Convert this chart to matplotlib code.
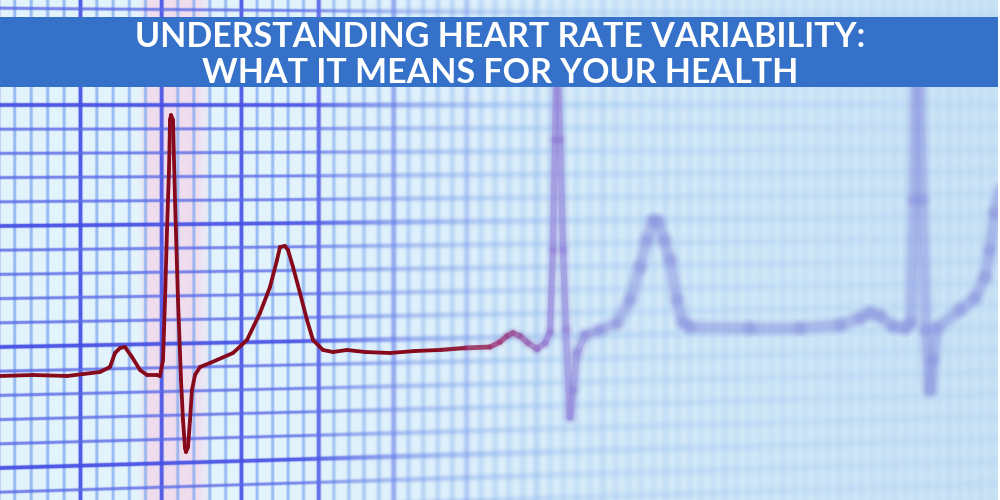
import numpy as np
import matplotlib
matplotlib.use("Agg")
import matplotlib.pyplot as plt
from matplotlib.collections import LineCollection
from matplotlib.colors import to_rgb
from matplotlib.patches import Rectangle

W, H = 1000, 500

title_lines = ["UNDERSTANDING HEART RATE VARIABILITY:",
               "WHAT IT MEANS FOR YOUR HEALTH"]

# ECG trace (pixel coordinates, y downwards)
trace_x = [0, 33, 67, 100, 110, 115, 120, 125, 132, 140, 147, 157,
           160, 163, 165, 167, 169, 170, 171, 173, 175, 178, 181, 183, 185, 186,
           188, 190, 192, 195, 200, 210, 233, 247, 260, 270, 277, 280, 285, 288,
           293, 300, 307, 313, 323, 333, 347, 365, 390, 415, 440, 465, 490, 500,
           507, 513, 520, 528, 537, 545, 550, 553, 555, 557, 560, 563, 566, 570,
           573, 577, 585, 600, 617, 630, 640, 647, 653, 658, 664, 670, 677, 683,
           690, 750, 800, 840, 860, 870, 880, 893, 905, 911, 914, 916, 919, 922,
           926, 930, 933, 937, 960, 975, 985, 990, 995, 1000]
trace_y = [376, 375, 376, 372, 367, 353, 348, 347, 357, 370, 375, 375,
           376, 360, 300, 230, 170, 120, 115, 120, 200, 300, 380, 420, 448, 452,
           447, 420, 390, 375, 367, 363, 353, 340, 313, 287, 260, 247, 246, 250,
           267, 293, 320, 340, 350, 352, 350, 352, 353, 351, 350, 348, 347, 342,
           336, 333, 336, 343, 349, 343, 332, 250, 140, 40, 140, 250, 330, 417,
           390, 353, 335, 330, 323, 300, 267, 240, 221, 222, 240, 260, 300, 322,
           327, 328, 328, 325, 318, 313, 316, 326, 328, 322, 200, 40, 40, 200,
           330, 390, 360, 328, 310, 298, 277, 250, 213, 190]

fig = plt.figure(figsize=(10, 5), dpi=100)
ax = fig.add_axes([0, 0, 1, 1])
ax.set_xlim(0, W)
ax.set_ylim(H, 0)
ax.axis('off')

# ---------- background: monitor grid (decorative raster) ----------
xs = np.arange(W) + 0.5
ys = np.arange(H) + 0.5
X, Y = np.meshgrid(xs, ys)


def ss(a, b, x):
    t = np.clip((x - a) / (b - a), 0, 1)
    return t * t * (3 - 2 * t)


def ramp(c0, c1, x0, x1):
    c0 = np.array(to_rgb(c0)); c1 = np.array(to_rgb(c1))
    tt = np.clip((xs - x0) / (x1 - x0), 0, 1)[:, None]
    return (c0 * (1 - tt) + c1 * tt)[None, :, :]


bg = np.broadcast_to(ramp('#e4f4fc', '#cde5f6', 250, 1000), (H, W, 3)).copy()
pink = np.array(to_rgb('#f4d6ea'))
wp = (ss(136, 150, xs) * (1 - ss(194, 214, xs)) * 0.75)[None, :, None]
bg = bg * (1 - wp) + pink * wp

p = np.interp(xs, [0, 200, 320, 450, 550, 700, 1000], [16.6, 16.0, 15.2, 14.5, 13.5, 11.8, 10.5])
u = np.cumsum(1 / p)
u = u - u[80]
ru = np.round(u)
dv = (np.abs(u - ru) * p)[None, :]
majv = (ru % 5 == 0)[None, :]

s = np.interp(xs, [0, 1000], [1.0, 0.92])[None, :]
v = (Y - 105) / (24.2 * s)
rv = np.round(v)
dh = np.abs(v - rv) * 24.2 * s
majh = (rv % 5 == 0)

sig = np.interp(xs, [0, 300, 340, 400, 470, 600, 1000], [0.8, 0.85, 1.1, 1.7, 2.2, 2.9, 3.4])[None, :]
hwmin = np.interp(xs, [0, 320, 450], [0.6, 0.5, 0.2])[None, :]
hwmaj = np.interp(xs, [0, 320, 450], [1.0, 0.9, 0.3])[None, :]
ax_ = [0, 300, 340, 400, 480, 600, 800, 1000]
avmin = np.interp(xs, ax_, [0.70, 0.66, 0.55, 0.42, 0.32, 0.23, 0.15, 0.12])[None, :]
avmaj = np.interp(xs, ax_, [0.95, 0.90, 0.75, 0.52, 0.36, 0.25, 0.16, 0.12])[None, :]
ahmin = np.interp(xs, ax_, [0.80, 0.75, 0.60, 0.44, 0.32, 0.23, 0.15, 0.12])[None, :]
ahmaj = np.interp(xs, ax_, [0.95, 0.90, 0.75, 0.52, 0.36, 0.25, 0.16, 0.12])[None, :]


def prof(d, hw, sg):
    return np.exp(-0.5 * (np.maximum(d - hw, 0) / sg) ** 2)


pvmin, pvmaj = prof(dv, hwmin, sig), prof(dv, hwmaj, sig)
phmin, phmaj = prof(dh, hwmin, sig), prof(dh, hwmaj, sig)
Iv = np.where(majv, avmaj * pvmaj, avmin * pvmin)
Ih = np.where(majh, ahmaj * phmaj, ahmin * phmin)
cvmin = ramp('#78a4ee', '#8fbcef', 300, 560)
cvmaj = ramp('#4652e6', '#86b4ee', 300, 560)
chmin = ramp('#5a6ae6', '#8cb8ee', 300, 560)
chmaj = ramp('#4650e4', '#86b4ee', 300, 560)
cv = np.where(majv[..., None], cvmaj, cvmin)
ch = np.where(majh[..., None], chmaj, chmin)
img = bg * (1 - Iv[..., None]) + cv * Iv[..., None]
img = img * (1 - Ih[..., None]) + ch * Ih[..., None]
ax.imshow(np.clip(img, 0, 1), extent=(0, W, H, 0), interpolation='bilinear', zorder=0)

# ---------- ECG trace ----------
px = np.array(trace_x, float)
py = np.array(trace_y, float)
pts = np.column_stack([px, py])
segs = np.stack([pts[:-1], pts[1:]], axis=1)
mx = (px[:-1] + px[1:]) / 2
b = np.clip((mx - 440) / 180, 0, 1)
stops = [0, 0.3, 0.6, 1.0]
cols = np.array([to_rgb(c) for c in ['#860a1c', '#a03070', '#927ad8', '#8d96e2']])
rgb = np.column_stack([np.interp(b, stops, cols[:, k]) for k in range(3)])
wpx = np.interp(b, [0, 1], [3.8, 10.0])
pt = wpx * 72 / 100
a_core = np.interp(b, [0, 1], [1.0, 0.2])
for fw, fa in [(2.0, 0.07), (1.6, 0.10), (1.25, 0.14), (1.0, 0.17)]:
    rgba = np.column_stack([rgb, fa * b])
    ax.add_collection(LineCollection(segs, colors=rgba, linewidths=pt * fw,
                                     capstyle='round', joinstyle='round', zorder=2))
rgba = np.column_stack([rgb, a_core])
ax.add_collection(LineCollection(segs, colors=rgba, linewidths=pt * np.interp(b, [0, 1], [1.0, 0.65]),
                                 capstyle='round', joinstyle='round', zorder=3))

# ---------- title banner ----------
ax.add_patch(Rectangle((0, 17), 998, 70, facecolor='#3571c9', edgecolor='none', zorder=5))
ax.add_patch(Rectangle((998, 0), 2, 500, facecolor='white', edgecolor='none', zorder=6))
ax.text(500, 47, title_lines[0], color='white', fontsize=24.5, fontweight='bold',
        family='Lato', ha='center', va='baseline', zorder=7)
ax.text(500, 83, title_lines[1], color='white', fontsize=24.5, fontweight='bold',
        family='Lato', ha='center', va='baseline', zorder=7)

fig.savefig('out.png', dpi=100)
